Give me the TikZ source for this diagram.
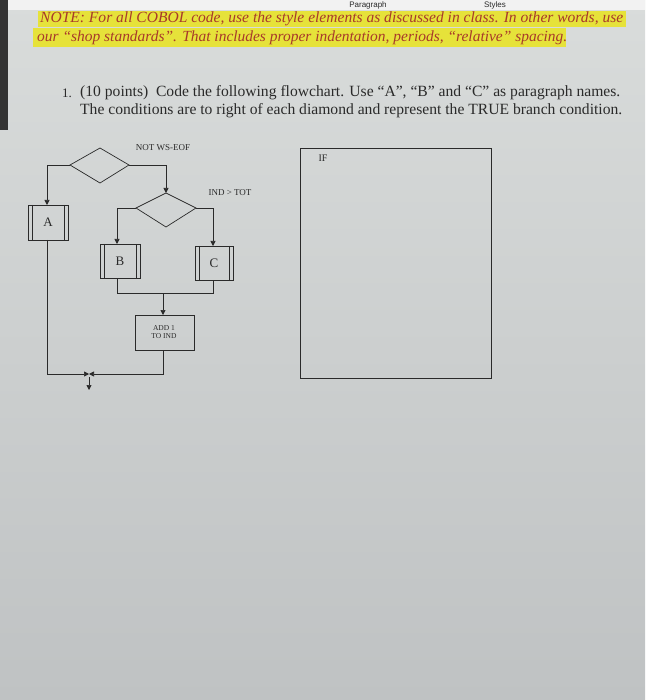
\documentclass[tikz,border=0pt]{standalone}
\usepackage{fontspec}
\setmainfont{Liberation Serif}
\newfontfamily\uisans{Liberation Sans}
\usetikzlibrary{arrows.meta}
\definecolor{paper}{HTML}{D9DCDB}
\definecolor{paperdark}{HTML}{BFC2C3}
\definecolor{hl}{HTML}{E6E23A}
\definecolor{notered}{HTML}{A83A2A}
\definecolor{ink}{HTML}{2A2A2A}
\tikzset{
  ln/.style={draw=ink, line width=0.7pt},
  arr/.style={ln, -{Triangle[length=5pt,width=5pt]}},
  proc/.style={draw=ink, line width=0.7pt, fill=none},
  lbl/.style={font=\fontsize{9}{10}\selectfont, text=ink, inner sep=0pt},
  boxtxt/.style={font=\fontsize{13}{14}\selectfont, text=ink, inner sep=0pt},
}
\begin{document}
\begin{tikzpicture}[x=1pt,y=-1pt]
\useasboundingbox (0,0) rectangle (645,700);
\shade[top color=paper, bottom color=paperdark] (0,0) rectangle (645,700);
\fill[black!80] (0,0) rectangle (8,130);
\fill[white!90!gray] (8,0) rectangle (645,10);
\node[font=\uisans\fontsize{8}{9}\selectfont, text=ink, inner sep=0pt] (para) at (368,5) {Paragraph};
\node[font=\uisans\fontsize{8}{9}\selectfont, text=ink, inner sep=0pt] (sty) at (495,5) {Styles};
\fill[hl] (38,11) rectangle (626,27);
\fill[hl] (33,28) rectangle (566,47);
\node[anchor=west, inner sep=0pt, text=notered] (n1) at (40,19) {\resizebox{583pt}{!}{\itshape\fontsize{14}{16}\selectfont NOTE:\ For all COBOL code, use the style elements as discussed in class. In other words, use}};
\node[anchor=west, inner sep=0pt, text=notered] (n2) at (37,38) {\resizebox{530pt}{!}{\itshape\fontsize{14}{16}\selectfont our ``shop standards''. That includes proper indentation, periods, ``relative'' spacing.}};
\node[anchor=west, inner sep=0pt, text=ink] (q0) at (62,93) {\fontsize{13}{15}\selectfont 1.};
\node[anchor=west, inner sep=0pt, text=ink] (q1) at (80,93) {\resizebox{540pt}{!}{\fontsize{13}{15}\selectfont (10 points)\ \ Code the following flowchart. Use ``A'', ``B'' and ``C'' as paragraph names.}};
\node[anchor=west, inner sep=0pt, text=ink] (q2) at (80,111) {\resizebox{542pt}{!}{\fontsize{13}{15}\selectfont The conditions are to right of each diamond and represent the TRUE branch condition.}};
\path[ln] (70,165) -- (100,148) -- (129,165) -- (100,183) -- cycle;
\path[ln] (136,208) -- (166,193) -- (196,208) -- (166,227) -- cycle;
\draw[proc] (28,205) rectangle (68,240); \draw[ln] (32,205)--(32,240); \draw[ln] (64,205)--(64,240);
\node[boxtxt] (A) at (48,222) {A};
\draw[proc] (100,244) rectangle (140,278); \draw[ln] (104,244)--(104,278); \draw[ln] (136,244)--(136,278);
\node[boxtxt] (B) at (120,261) {B};
\draw[proc] (195,246) rectangle (233,280); \draw[ln] (199,246)--(199,280); \draw[ln] (229,246)--(229,280);
\node[boxtxt] (C) at (214,263) {C};
\draw[proc] (135,315) rectangle (194,350);
\node[lbl, align=center, font=\fontsize{7.5}{8.5}\selectfont] (add) at (164,332) {ADD 1\\TO IND};
\node[lbl] (c1) at (163,148) {NOT WS-EOF};
\node[lbl] (c2) at (230,193) {IND > TOT};
\draw[arr] (70,165) -| (47,205);
\draw[arr] (129,165) -| (166,193);
\draw[arr] (136,208) -| (117,244);
\draw[arr] (196,208) -| (213,246);
\draw[ln] (117,278) |- (213,293) -- (213,280);
\draw[arr] (163,293) -- (163,315);
\coordinate (m) at (89,374);
\draw[arr] (47,240) |- (m);
\draw[arr] (163,350) |- (m);
\draw[arr] (89,377) -- (89,390);
\draw[line width=0.8pt, draw=ink] (300,148) rectangle (491,378);
\node[lbl, font=\fontsize{10}{11}\selectfont] (if) at (323,158) {IF};
\end{tikzpicture}
\end{document}
